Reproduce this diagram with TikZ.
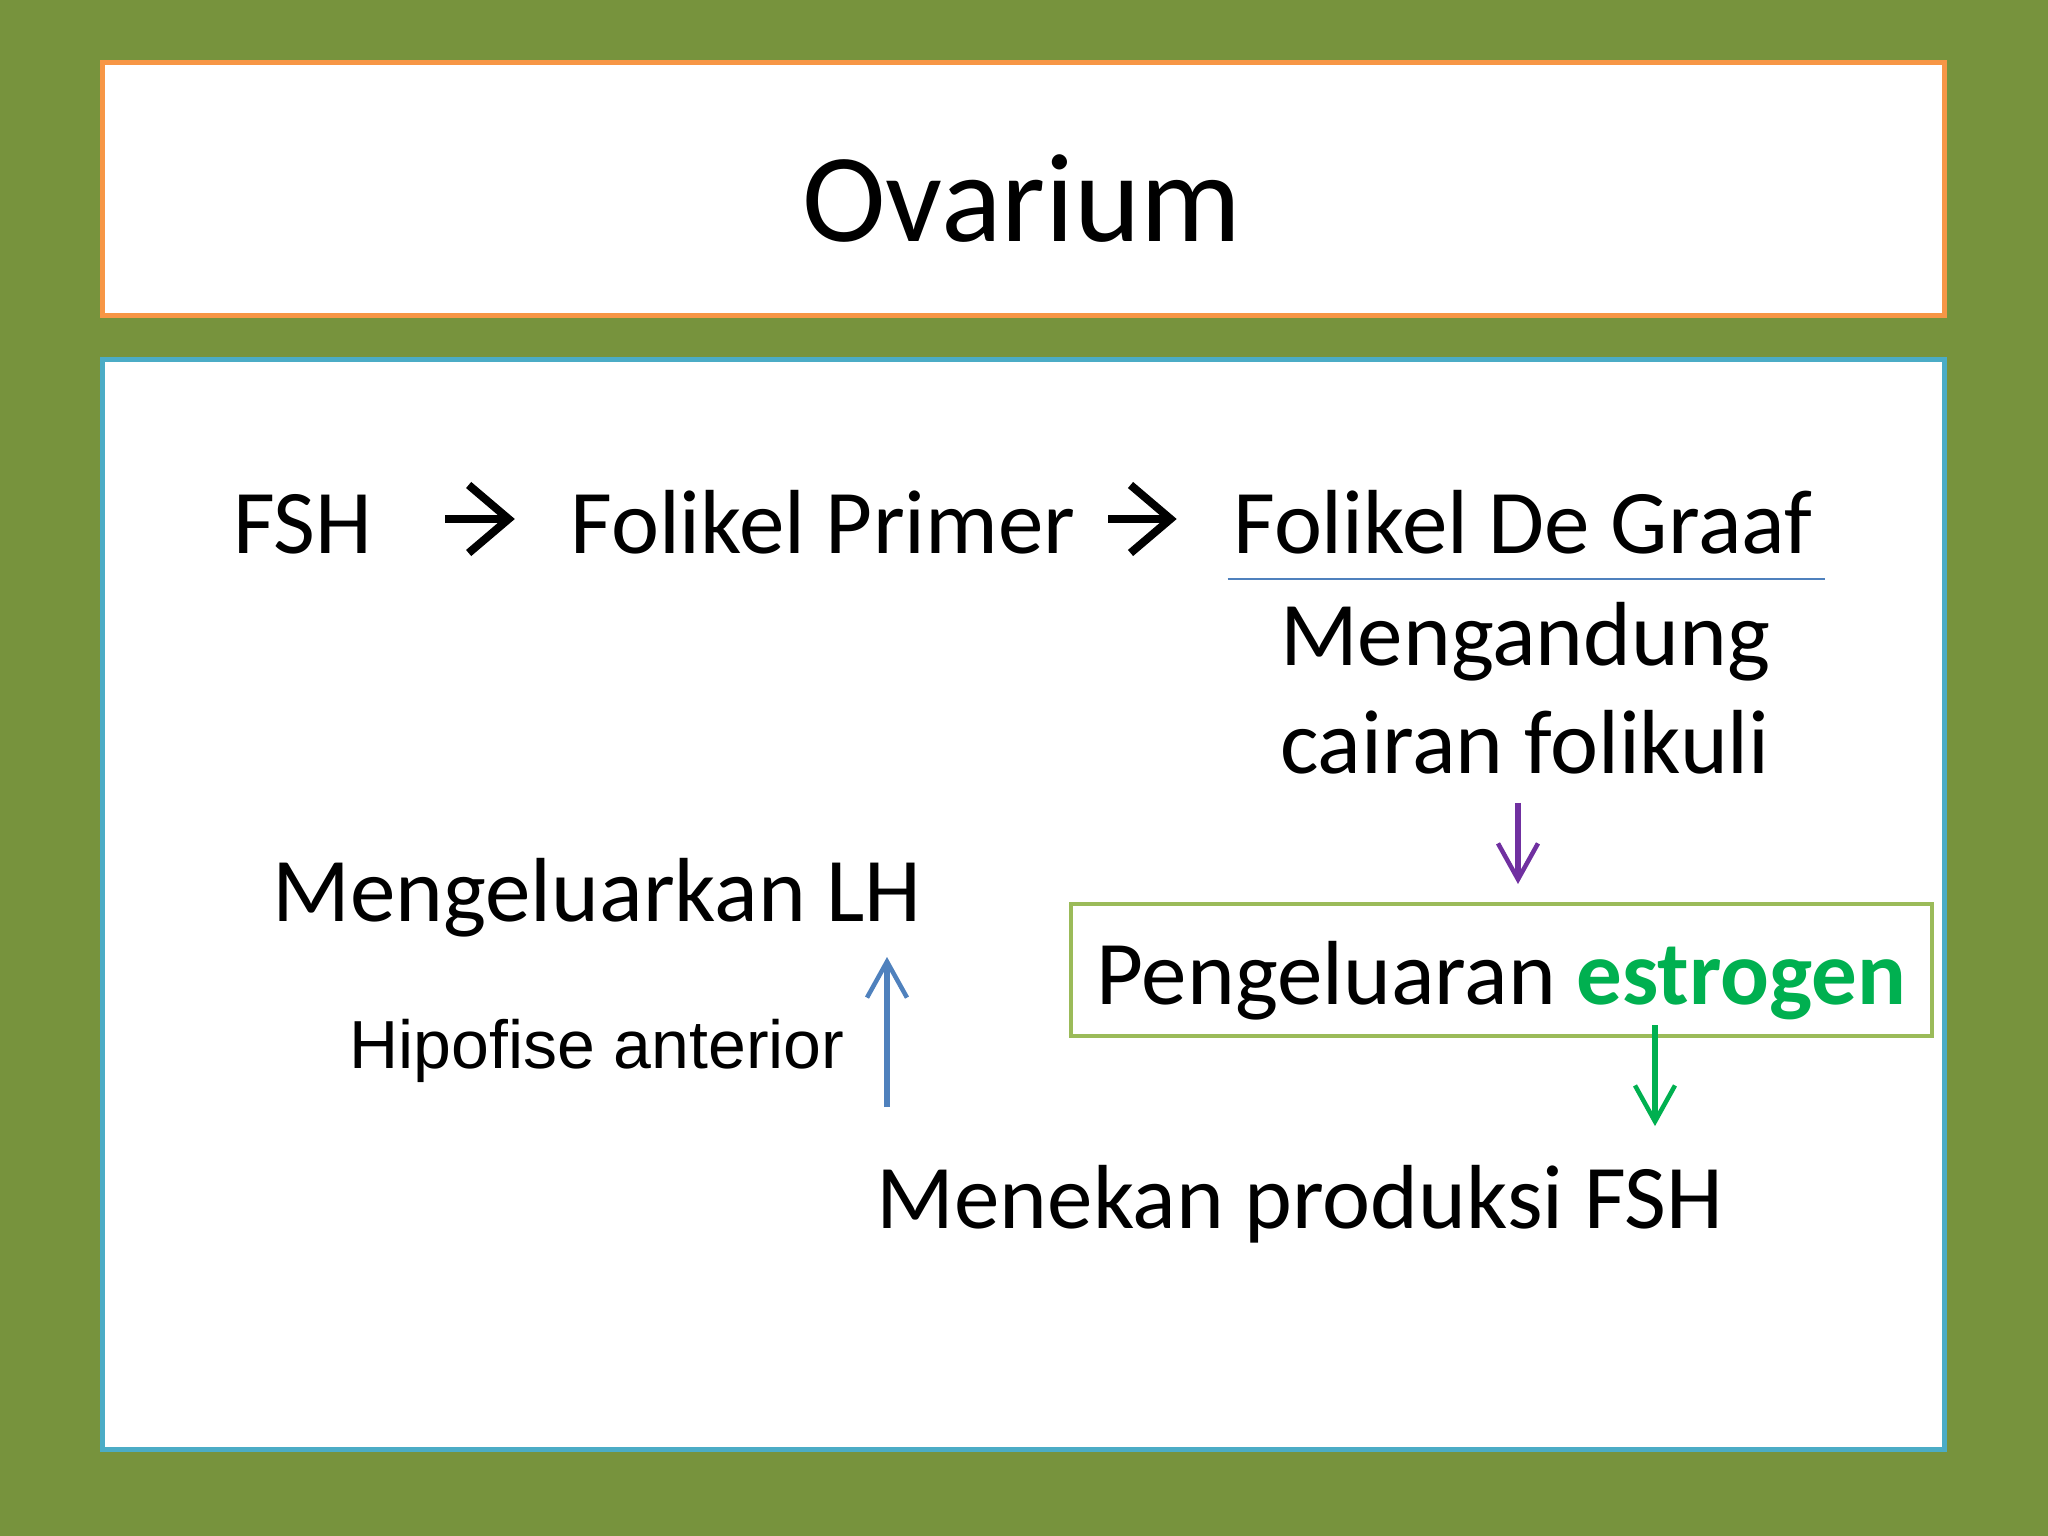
\documentclass[tikz,border=0pt]{standalone}
\usepackage{fontspec}
\setmainfont{Carlito}
\newfontfamily\arialfont{Liberation Sans}
\usepackage{xcolor}
\usetikzlibrary{calc, positioning, arrows.meta}

\definecolor{bggreen}{RGB}{119,147,61}
\definecolor{titleorange}{RGB}{247,150,70}
\definecolor{panelblue}{RGB}{75,172,198}
\definecolor{linkblue}{RGB}{79,129,189}
\definecolor{boxgreen}{RGB}{155,187,89}
\definecolor{estgreen}{RGB}{0,176,80}
\definecolor{arrowpurple}{RGB}{112,48,160}

\begin{document}
\begin{tikzpicture}[
	slidetext/.style={inner sep=0pt, font=\fontsize{25.9}{30.5}\selectfont},
	rowtext/.style={slidetext, text height=0.70cm, text depth=0pt},
	flow/.style={line width=0.08cm, -{Straight Barb[length=0.40cm,width=0.68cm]}},
	colarrow/.style={line width=0.06cm, -{Straight Barb[length=0.36cm,width=0.40cm,line width=0.045cm 0]}}
	]

		% slide background and panels %
		\fill[bggreen] (0,0) rectangle (20.48,-15.36);
		\draw[fill=white, draw=titleorange, line width=0.05cm] (1.025,-0.625) rectangle (19.44,-3.155);
		\draw[fill=white, draw=panelblue, line width=0.05cm] (1.025,-3.595) rectangle (19.445,-14.495);

		% nodes - title %
		\node[anchor=base, inner sep=0pt, font=\fontsize{35.9}{43}\selectfont] (title) at (10.22,-2.42) {Ovarium};

		% nodes - top row %
		\node[rowtext, anchor=base] (fsh) at (3.03,-5.54) {FSH};
		\node[rowtext, anchor=base] (primer) at (8.23,-5.54) {Folikel Primer};
		\node[rowtext, anchor=base] (graaf) at (15.23,-5.54) {Folikel De Graaf};
		\node[slidetext, anchor=base, align=center] (fluid) at (15.25,-7.73) {Mengandung\\cairan folikuli};

		% nodes - lower part %
		\node[rowtext, anchor=center, draw=boxgreen, line width=0.04cm, minimum width=8.61cm, minimum height=1.32cm] (est) at (15.015,-9.70) {Pengeluaran \textbf{\color{estgreen}estrogen}};
		\node[slidetext, anchor=base] (supp) at (13.00,-12.28) {Menekan produksi FSH};
		\node[slidetext, anchor=base] (lh) at (5.97,-9.21) {Mengeluarkan LH};
		\node[anchor=base, inner sep=0pt, font=\arialfont\fontsize{19.35}{23}\selectfont] (hipo) at (5.97,-10.68) {Hipofise anterior};

		% free ends %
		\coordinate (purpletop) at (15.18,-8.03);
		\coordinate (greentop) at (16.55,-10.25);
		\coordinate (bluefoot) at (8.87,-11.07);

		% edges %
		\draw[flow, shorten <=0.72cm, shorten >=0.55cm] (fsh) -- (primer);
		\draw[flow, shorten <=0.32cm, shorten >=0.56cm] (primer) -- (graaf);
		\draw[linkblue, line width=0.02cm] ([xshift=-0.05cm,yshift=-0.25cm]graaf.base west) -- ([xshift=0.12cm,yshift=-0.25cm]graaf.base east);
		\draw[colarrow, arrowpurple, shorten >=0.18cm] (purpletop) -- (purpletop |- est.north);
		\draw[colarrow, estgreen] (greentop) -- ([yshift=0.38cm]greentop |- supp.north);
		\draw[colarrow, linkblue] (bluefoot) -- ([yshift=-0.36cm]bluefoot |- lh.base);

\end{tikzpicture}
\end{document}
